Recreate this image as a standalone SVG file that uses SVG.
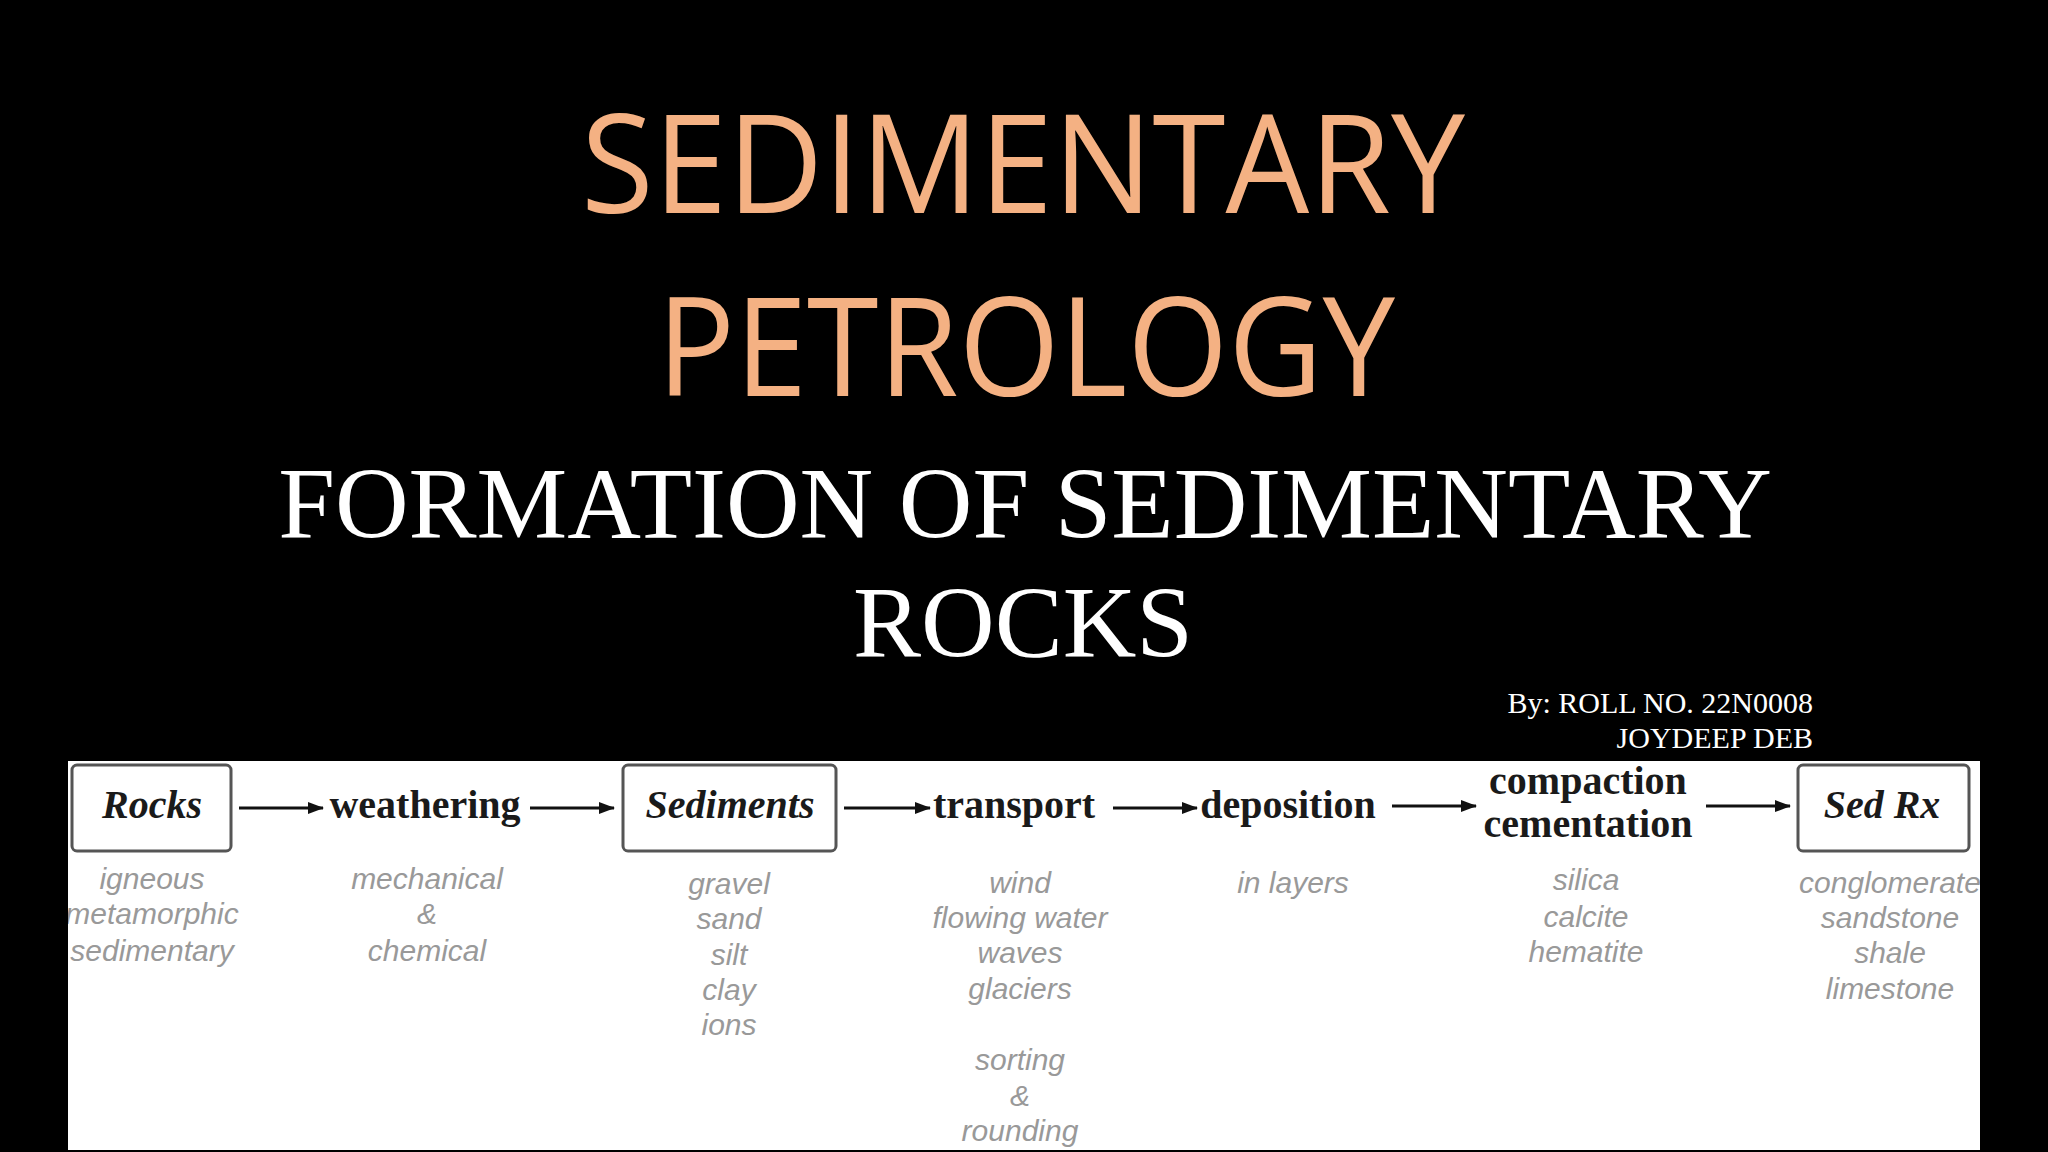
<svg xmlns="http://www.w3.org/2000/svg" width="2048" height="1152" viewBox="0 0 2048 1152">
<style>
.title{font-family:"Open Sans","Noto Sans",sans-serif;fill:#F4B183;font-size:137px;text-anchor:middle}
.sub{font-family:"Liberation Serif",serif;fill:#ffffff;font-size:102px;text-anchor:middle}
.by{font-family:"Liberation Serif",serif;fill:#ffffff;font-size:30px;text-anchor:end}
.box{fill:#ffffff;stroke:#555555;stroke-width:3}
.bi{font-family:"Liberation Serif",serif;font-weight:bold;font-style:italic;font-size:40px;fill:#1a1a1a;text-anchor:middle}
.b{font-family:"Liberation Serif",serif;font-weight:bold;font-size:40px;fill:#1a1a1a;text-anchor:middle}
.g{font-family:"Liberation Sans",sans-serif;font-style:italic;font-size:30px;fill:#999999;text-anchor:middle}
.arr{stroke:#111;stroke-width:3;fill:none;marker-end:url(#ah)}
</style>
<defs>
<marker id="ah" markerWidth="16" markerHeight="12" refX="15" refY="6" orient="auto" markerUnits="userSpaceOnUse">
<path d="M0,0 L16,6 L0,12 Z" fill="#111"/>
</marker>
<clipPath id="panel"><rect x="68" y="761" width="1912" height="389"/></clipPath>
</defs>
<rect x="0" y="0" width="2048" height="1152" fill="#000000"/>
<g id="titles">
<text class="title" x="1023" y="213" textLength="884" lengthAdjust="spacingAndGlyphs">SEDIMENTARY</text>
<text class="title" x="1026" y="396" textLength="738" lengthAdjust="spacingAndGlyphs">PETROLOGY</text>
<text class="sub" x="1025" y="538">FORMATION OF SEDIMENTARY</text>
<text class="sub" x="1023" y="657">ROCKS</text>
<text class="by" x="1813" y="713">By: ROLL NO. 22N0008</text>
<text class="by" x="1813" y="748">JOYDEEP DEB</text>
</g>
<g id="panel-bg">
<rect x="68" y="761" width="1912" height="389" fill="#ffffff"/>
</g>
<g clip-path="url(#panel)">
<g id="connectors">
<line class="arr" x1="239" y1="808" x2="323" y2="808"/>
<line class="arr" x1="530" y1="808" x2="614" y2="808"/>
<line class="arr" x1="844" y1="808" x2="930" y2="808"/>
<line class="arr" x1="1113" y1="808" x2="1197" y2="808"/>
<line class="arr" x1="1392" y1="806" x2="1476" y2="806"/>
<line class="arr" x1="1706" y1="806" x2="1790" y2="806"/>
</g>
<g id="node-rocks">
<rect class="box" x="72" y="765" width="159" height="86" rx="5"/>
<text class="bi" x="152" y="818">Rocks</text>
<text class="g" x="152" y="889">igneous</text>
<text class="g" x="152" y="924">metamorphic</text>
<text class="g" x="152" y="961">sedimentary</text>
</g>
<g id="node-weathering">
<text class="b" x="425" y="818">weathering</text>
<text class="g" x="427" y="889">mechanical</text>
<text class="g" x="427" y="924">&amp;</text>
<text class="g" x="427" y="961">chemical</text>
</g>
<g id="node-sediments">
<rect class="box" x="623" y="765" width="213" height="86" rx="5"/>
<text class="bi" x="730" y="818">Sediments</text>
<text class="g" x="729" y="894">gravel</text>
<text class="g" x="729" y="929">sand</text>
<text class="g" x="729" y="965">silt</text>
<text class="g" x="729" y="1000">clay</text>
<text class="g" x="729" y="1035">ions</text>
</g>
<g id="node-transport">
<text class="b" x="1014" y="818">transport</text>
<text class="g" x="1020" y="893">wind</text>
<text class="g" x="1020" y="928">flowing water</text>
<text class="g" x="1020" y="963">waves</text>
<text class="g" x="1020" y="999">glaciers</text>
<text class="g" x="1020" y="1070">sorting</text>
<text class="g" x="1020" y="1106">&amp;</text>
<text class="g" x="1020" y="1141">rounding</text>
</g>
<g id="node-deposition">
<text class="b" x="1288" y="818">deposition</text>
<text class="g" x="1293" y="893">in layers</text>
</g>
<g id="node-compaction">
<text class="b" x="1588" y="794">compaction</text>
<text class="b" x="1588" y="837">cementation</text>
<text class="g" x="1586" y="890">silica</text>
<text class="g" x="1586" y="927">calcite</text>
<text class="g" x="1586" y="962">hematite</text>
</g>
<g id="node-sedrx">
<rect class="box" x="1798" y="765" width="171" height="86" rx="5"/>
<text class="bi" x="1882" y="818">Sed Rx</text>
<text class="g" x="1890" y="893">conglomerate</text>
<text class="g" x="1890" y="928">sandstone</text>
<text class="g" x="1890" y="963">shale</text>
<text class="g" x="1890" y="999">limestone</text>
</g>
</g>
</svg>
